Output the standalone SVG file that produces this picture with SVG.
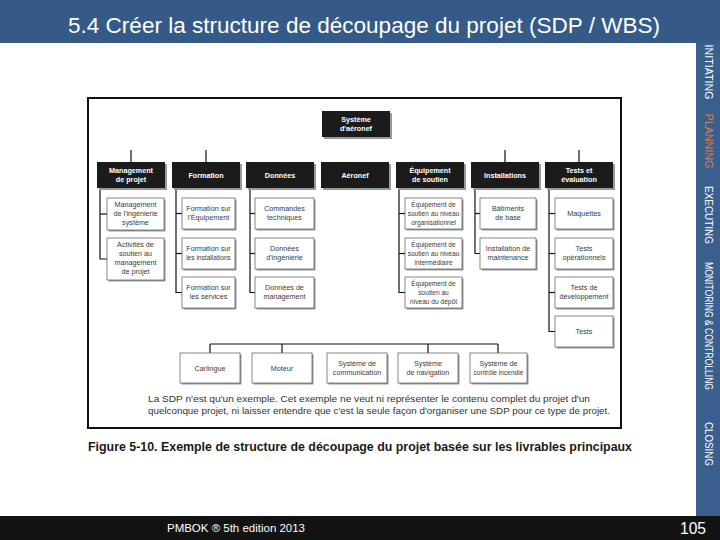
<svg xmlns="http://www.w3.org/2000/svg" width="720" height="540" viewBox="0 0 720 540">
<style>
.sh{fill:#9a9a9a}
.bx{fill:#fff;stroke:#555;stroke-width:0.7}
.t1{font-family:"Liberation Sans",Arial,sans-serif;font-size:7.2px;font-weight:bold;fill:#fff;text-anchor:middle}
.t2{font-family:"Liberation Sans",Arial,sans-serif;font-size:7.2px;fill:#3a3a3a;text-anchor:middle}
.t3{font-family:"Liberation Sans",Arial,sans-serif;font-size:6.6px;fill:#3a3a3a;text-anchor:middle}
.side{font-family:"Liberation Sans",Arial,sans-serif;font-size:10px;fill:#fff;text-anchor:middle}
#conn line,#conn polyline{stroke:#111;stroke-width:1.2;fill:none}
</style>
<rect width="720" height="540" fill="#fff"/>
<!-- title bar -->
<rect x="0" y="0" width="720" height="43" fill="#355a87"/>
<text x="364" y="33" font-family="'Liberation Sans',Arial,sans-serif" font-size="22" fill="#fff" text-anchor="middle" textLength="592" lengthAdjust="spacingAndGlyphs">5.4 Créer la structure de découpage du projet  (SDP / WBS)</text>
<!-- sidebar -->
<rect x="696" y="43" width="24" height="473" fill="#3a5f8f"/>
<g class="side">
<text transform="translate(705,72) rotate(90)" textLength="55" lengthAdjust="spacingAndGlyphs">INITIATING</text>
<text transform="translate(705,141) rotate(90)" textLength="55" lengthAdjust="spacingAndGlyphs" fill="#e07b39">PLANNING</text>
<text transform="translate(705,215) rotate(90)" textLength="58" lengthAdjust="spacingAndGlyphs">EXECUTING</text>
<text transform="translate(705,326) rotate(90)" textLength="128" lengthAdjust="spacingAndGlyphs">MONITORING &amp; CONTROLLING</text>
<text transform="translate(705,444) rotate(90)" textLength="44" lengthAdjust="spacingAndGlyphs">CLOSING</text>
</g>
<!-- footer -->
<rect x="0" y="516" width="720" height="24" fill="#131313"/>
<text x="167" y="532" font-family="'Liberation Sans',Arial,sans-serif" font-size="11" fill="#fff" textLength="138" lengthAdjust="spacingAndGlyphs">PMBOK ® 5th edition  2013</text>
<text x="706" y="534" font-family="'Liberation Sans',Arial,sans-serif" font-size="16" fill="#fff" text-anchor="end" textLength="26" lengthAdjust="spacingAndGlyphs">105</text>
<!-- figure frame -->
<rect x="88" y="98" width="533" height="330" fill="#fff" stroke="#111" stroke-width="2"/>
<!-- connectors -->
<g id="conn">
<line x1="131" y1="150" x2="131" y2="162"/>
<line x1="206" y1="150" x2="206" y2="162"/>
<line x1="505" y1="150" x2="505" y2="162"/>
<line x1="579" y1="150" x2="579" y2="162"/>
<polyline points="100,188 100,259 107,259"/><line x1="100" y1="214" x2="107" y2="214"/>
<polyline points="176,188 176,292.5 182,292.5"/><line x1="176" y1="213.5" x2="182" y2="213.5"/><line x1="176" y1="253.5" x2="182" y2="253.5"/>
<polyline points="250,188 250,292.5 255,292.5"/><line x1="250" y1="213.5" x2="255" y2="213.5"/><line x1="250" y1="253.5" x2="255" y2="253.5"/>
<polyline points="399,188 399,292.5 405,292.5"/><line x1="399" y1="213.5" x2="405" y2="213.5"/><line x1="399" y1="253.5" x2="405" y2="253.5"/>
<polyline points="475,188 475,253.5 480,253.5"/><line x1="475" y1="213.5" x2="480" y2="213.5"/>
<polyline points="549,188 549,331.5 555,331.5"/><line x1="549" y1="213.5" x2="555" y2="213.5"/><line x1="549" y1="253.5" x2="555" y2="253.5"/><line x1="549" y1="292.5" x2="555" y2="292.5"/>
<line x1="210" y1="344" x2="498" y2="344"/>
<line x1="210" y1="344" x2="210" y2="353"/>
<line x1="282" y1="344" x2="282" y2="353"/>
<line x1="428" y1="344" x2="428" y2="353"/>
<line x1="498" y1="344" x2="498" y2="353"/>
</g>
<!-- root -->
<g id="root"><rect class="sh" x="324" y="113" width="68" height="26"/><rect x="322" y="111" width="68" height="26" fill="#1b1b1b"/><text class="t1" x="356" y="122">Système</text><text class="t1" x="356" y="131">d'aéronef</text></g>
<!-- level 1 -->
<g id="n-management"><rect class="sh" x="99" y="164" width="68" height="26"/><rect x="97" y="162" width="68" height="26" fill="#1b1b1b"/><text class="t1" x="131" y="173">Management</text><text class="t1" x="131" y="182">de projet</text></g>
<g id="n-formation"><rect class="sh" x="174" y="164" width="68" height="26"/><rect x="172" y="162" width="68" height="26" fill="#1b1b1b"/><text class="t1" x="206" y="177.5">Formation</text></g>
<g id="n-donnees"><rect class="sh" x="248" y="164" width="68" height="26"/><rect x="246" y="162" width="68" height="26" fill="#1b1b1b"/><text class="t1" x="280" y="177.5">Données</text></g>
<g id="n-aeronef"><rect class="sh" x="323" y="164" width="68" height="26"/><rect x="321" y="162" width="68" height="26" fill="#1b1b1b"/><text class="t1" x="355" y="177.5">Aéronef</text></g>
<g id="n-equipement"><rect class="sh" x="398" y="164" width="68" height="26"/><rect x="396" y="162" width="68" height="26" fill="#1b1b1b"/><text class="t1" x="430" y="173">Équipement</text><text class="t1" x="430" y="182">de soutien</text></g>
<g id="n-installations"><rect class="sh" x="473" y="164" width="68" height="26"/><rect x="471" y="162" width="68" height="26" fill="#1b1b1b"/><text class="t1" x="505" y="177.5">Installations</text></g>
<g id="n-tests"><rect class="sh" x="547" y="164" width="68" height="26"/><rect x="545" y="162" width="68" height="26" fill="#1b1b1b"/><text class="t1" x="579" y="173">Tests et</text><text class="t1" x="579" y="182">évaluation</text></g>
<!-- management children -->
<g id="m1"><rect class="sh" x="108.5" y="199.5" width="57" height="32"/><rect class="bx" x="107" y="198" width="57" height="32"/><text class="t2" x="135.5" y="207">Management</text><text class="t2" x="135.5" y="216">de l'ingénierie</text><text class="t2" x="135.5" y="225">système</text></g>
<g id="m2"><rect class="sh" x="108.5" y="239.5" width="57" height="42"/><rect class="bx" x="107" y="238" width="57" height="42"/><text class="t2" x="135.5" y="247">Activités de</text><text class="t2" x="135.5" y="256">soutien au</text><text class="t2" x="135.5" y="265">management</text><text class="t2" x="135.5" y="274">de projet</text></g>
<!-- formation children -->
<g id="f1"><rect class="sh" x="183.5" y="199.5" width="53" height="31"/><rect class="bx" x="182" y="198" width="53" height="31"/><text class="t2" x="208.5" y="211">Formation sur</text><text class="t2" x="208.5" y="220">l'Équipement</text></g>
<g id="f2"><rect class="sh" x="183.5" y="239.5" width="53" height="31"/><rect class="bx" x="182" y="238" width="53" height="31"/><text class="t2" x="208.5" y="251">Formation sur</text><text class="t3" x="208.5" y="260">les installations</text></g>
<g id="f3"><rect class="sh" x="183.5" y="278.5" width="53" height="31"/><rect class="bx" x="182" y="277" width="53" height="31"/><text class="t2" x="208.5" y="290">Formation sur</text><text class="t2" x="208.5" y="299">les services</text></g>
<!-- donnees children -->
<g id="d1"><rect class="sh" x="256.5" y="199.5" width="59" height="31"/><rect class="bx" x="255" y="198" width="59" height="31"/><text class="t2" x="284.5" y="211">Commandes</text><text class="t2" x="284.5" y="220">techniques</text></g>
<g id="d2"><rect class="sh" x="256.5" y="239.5" width="59" height="31"/><rect class="bx" x="255" y="238" width="59" height="31"/><text class="t2" x="284.5" y="251">Données</text><text class="t2" x="284.5" y="260">d'ingénierie</text></g>
<g id="d3"><rect class="sh" x="256.5" y="278.5" width="59" height="31"/><rect class="bx" x="255" y="277" width="59" height="31"/><text class="t2" x="284.5" y="290">Données de</text><text class="t2" x="284.5" y="299">management</text></g>
<!-- equipement children -->
<g id="e1"><rect class="sh" x="406.5" y="199.5" width="57" height="31"/><rect class="bx" x="405" y="198" width="57" height="31"/><text class="t3" x="433.5" y="206.5">Équipement de</text><text class="t3" x="433.5" y="215.5">soutien au niveau</text><text class="t3" x="433.5" y="224.5">organisationnel</text></g>
<g id="e2"><rect class="sh" x="406.5" y="239.5" width="57" height="31"/><rect class="bx" x="405" y="238" width="57" height="31"/><text class="t3" x="433.5" y="246.5">Équipement de</text><text class="t3" x="433.5" y="255.5">soutien au niveau</text><text class="t3" x="433.5" y="264.5">intermédiaire</text></g>
<g id="e3"><rect class="sh" x="406.5" y="278.5" width="57" height="31"/><rect class="bx" x="405" y="277" width="57" height="31"/><text class="t3" x="433.5" y="285.5">Équipement de</text><text class="t3" x="433.5" y="294.5">soutien au</text><text class="t3" x="433.5" y="303.5">niveau du dépôt</text></g>
<!-- installations children -->
<g id="i1"><rect class="sh" x="481.5" y="199.5" width="56" height="31"/><rect class="bx" x="480" y="198" width="56" height="31"/><text class="t2" x="508" y="211">Bâtiments</text><text class="t2" x="508" y="220">de base</text></g>
<g id="i2"><rect class="sh" x="481.5" y="239.5" width="56" height="31"/><rect class="bx" x="480" y="238" width="56" height="31"/><text class="t2" x="508" y="251">Installation de</text><text class="t2" x="508" y="260">maintenance</text></g>
<!-- tests children -->
<g id="t1"><rect class="sh" x="556.5" y="199.5" width="58" height="31"/><rect class="bx" x="555" y="198" width="58" height="31"/><text class="t2" x="584" y="216">Maquettes</text></g>
<g id="t2"><rect class="sh" x="556.5" y="239.5" width="58" height="31"/><rect class="bx" x="555" y="238" width="58" height="31"/><text class="t2" x="584" y="251">Tests</text><text class="t2" x="584" y="260">opérationnels</text></g>
<g id="t3"><rect class="sh" x="556.5" y="278.5" width="58" height="31"/><rect class="bx" x="555" y="277" width="58" height="31"/><text class="t2" x="584" y="290">Tests de</text><text class="t2" x="584" y="299">développement</text></g>
<g id="t4"><rect class="sh" x="556.5" y="317.5" width="58" height="31"/><rect class="bx" x="555" y="316" width="58" height="31"/><text class="t2" x="584" y="334">Tests</text></g>
<!-- aeronef children -->
<g id="a1"><rect class="sh" x="181.5" y="354.5" width="60" height="30"/><rect class="bx" x="180" y="353" width="60" height="30"/><text class="t2" x="210" y="371">Carlingue</text></g>
<g id="a2"><rect class="sh" x="253.5" y="354.5" width="60" height="30"/><rect class="bx" x="252" y="353" width="60" height="30"/><text class="t2" x="282" y="371">Moteur</text></g>
<g id="a3"><rect class="sh" x="328.5" y="354.5" width="60" height="30"/><rect class="bx" x="327" y="353" width="60" height="30"/><text class="t2" x="357" y="366">Système de</text><text class="t2" x="357" y="375">communication</text></g>
<g id="a4"><rect class="sh" x="399.5" y="354.5" width="60" height="30"/><rect class="bx" x="398" y="353" width="60" height="30"/><text class="t2" x="428" y="366">Système</text><text class="t2" x="428" y="375">de navigation</text></g>
<g id="a5"><rect class="sh" x="471.5" y="354.5" width="57" height="30"/><rect class="bx" x="470" y="353" width="57" height="30"/><text class="t2" x="498.5" y="366">Système de</text><text class="t3" x="498.5" y="375">contrôle incendie</text></g>
<!-- note -->
<text x="148" y="402" font-family="'Liberation Sans',Arial,sans-serif" font-size="9" fill="#333" textLength="442" lengthAdjust="spacingAndGlyphs">La SDP n'est qu'un exemple. Cet exemple ne veut ni représenter le contenu complet du projet d'un</text>
<text x="148" y="414" font-family="'Liberation Sans',Arial,sans-serif" font-size="9" fill="#333" textLength="462" lengthAdjust="spacingAndGlyphs">quelconque projet, ni laisser entendre que c'est la seule façon d'organiser une SDP pour ce type de projet.</text>
<!-- caption -->
<text x="88" y="451" font-family="'Liberation Sans',Arial,sans-serif" font-size="12.5" font-weight="bold" fill="#1a1a1a" textLength="544" lengthAdjust="spacingAndGlyphs">Figure 5-10. Exemple de structure de découpage du projet basée sur les livrables principaux</text>
</svg>
